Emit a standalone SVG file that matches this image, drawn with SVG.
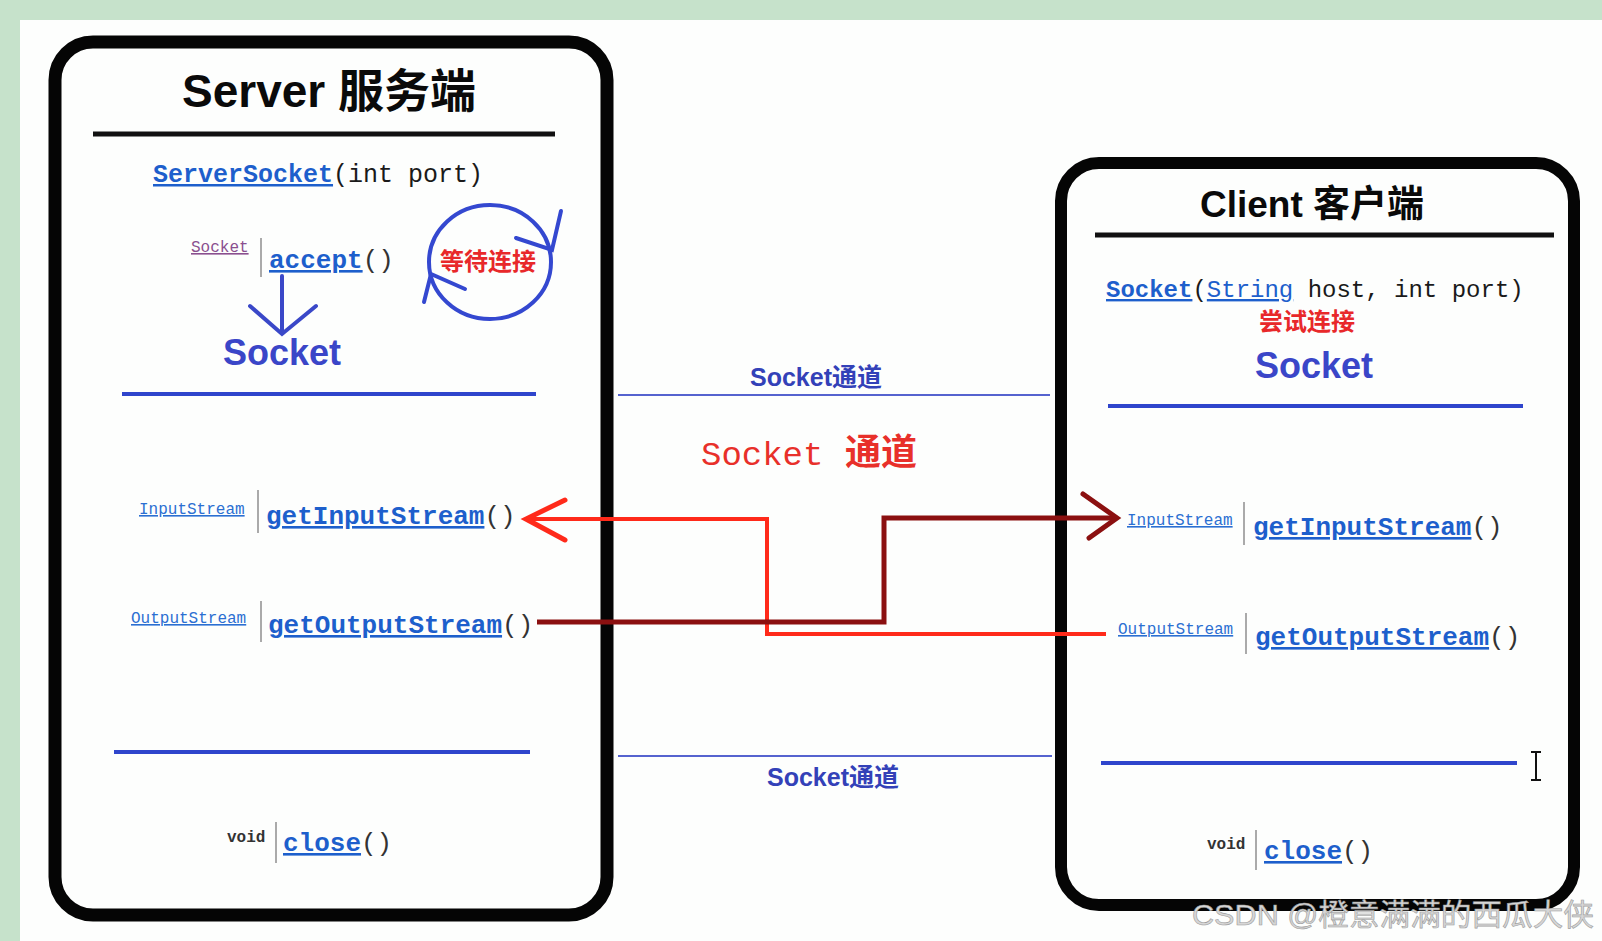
<svg xmlns="http://www.w3.org/2000/svg" width="1602" height="941" viewBox="0 0 1602 941">
<style>
.title{font-family:"Liberation Sans","Noto Sans CJK SC",sans-serif;font-weight:bold;fill:#0a0a0a}
.mono{font-family:"Liberation Mono",monospace;fill:#1a1a1a}
.link{font-family:"Liberation Mono",monospace;font-weight:bold;fill:#1d5fcc;text-decoration:underline}
.small{font-family:"Liberation Mono",monospace;font-size:16px;fill:#2b6fd2;text-decoration:underline}
.paren{font-family:"Liberation Mono",monospace;fill:#333}
.big{font-family:"Liberation Sans","Noto Sans CJK SC",sans-serif;font-weight:bold;font-size:36px;fill:#3a46c8}
.chan{font-family:"Liberation Sans","Noto Sans CJK SC",sans-serif;font-weight:bold;font-size:25px;fill:#3341b8}
.redcn{font-family:"Liberation Sans","Noto Sans CJK SC",sans-serif;font-weight:bold;fill:#e8282a}
.box{fill:#fdfefd;stroke:#050505}
.sep{stroke:#aaaaaa;stroke-width:2}
.hblue{stroke:#2f45cc;stroke-width:4}
.hblack{stroke:#111;stroke-width:5}
.chline{stroke:#5563cf;stroke-width:2}
</style>
<rect width="1602" height="941" fill="#fdfefd"/>
<rect x="0" y="0" width="1602" height="20" fill="#c6e2cb"/>
<rect x="0" y="0" width="20" height="941" fill="#c6e2cb"/>

<g id="server">
<rect class="box" x="55" y="42" width="552" height="873" rx="38" stroke-width="13"/>
<text class="title" x="329" y="107" font-size="46" text-anchor="middle">Server 服务端</text>
<line class="hblack" x1="93" y1="134" x2="555" y2="134"/>
<text x="153" y="182" font-size="25"><tspan class="link">ServerSocket</tspan><tspan class="mono">(int port)</tspan></text>
<text class="small" x="191" y="252" style="fill:#8a4f8f">Socket</text>
<line class="sep" x1="261" y1="238" x2="261" y2="277"/>
<text x="269" y="268" font-size="26"><tspan class="link">accept</tspan><tspan class="paren">()</tspan></text>
<g fill="none" stroke="#3a48c8" stroke-width="4" stroke-linecap="round">
<line x1="282" y1="276" x2="282" y2="333"/>
<polyline points="250,306 282,334 316,306"/>
</g>
<text class="big" x="282" y="365" text-anchor="middle">Socket</text>
<line class="hblue" x1="122" y1="394" x2="536" y2="394"/>
<text class="small" x="139" y="514">InputStream</text>
<line class="sep" x1="258" y1="490" x2="258" y2="533"/>
<text x="266" y="524" font-size="26"><tspan class="link">getInputStream</tspan><tspan class="paren">()</tspan></text>
<text class="small" x="131" y="623">OutputStream</text>
<line class="sep" x1="261" y1="601" x2="261" y2="642"/>
<text x="268" y="633" font-size="26"><tspan class="link">getOutputStream</tspan><tspan class="paren">()</tspan></text>
<line class="hblue" x1="114" y1="752" x2="530" y2="752"/>
<text class="small" x="227" y="842" style="fill:#333;text-decoration:none;font-weight:bold">void</text>
<line class="sep" x1="276" y1="822" x2="276" y2="863"/>
<text x="283" y="851" font-size="26"><tspan class="link">close</tspan><tspan class="paren">()</tspan></text>
</g>

<g id="wait-loop">
<ellipse cx="490" cy="262" rx="61" ry="57" fill="none" stroke="#3448d0" stroke-width="4"/>
<g fill="none" stroke="#3448d0" stroke-width="4" stroke-linecap="round">
<polyline points="561,211 552,250 516,238"/>
<polyline points="424,302 431,274 465,289"/>
</g>
<text class="redcn" x="488" y="270" font-size="24" text-anchor="middle">等待连接</text>
</g>

<g id="client">
<rect class="box" x="1061" y="163" width="513" height="742" rx="38" stroke-width="12"/>
<text class="title" x="1312" y="217" font-size="37" text-anchor="middle">Client 客户端</text>
<line class="hblack" x1="1095" y1="235" x2="1554" y2="235"/>
<text x="1106" y="297" font-size="24"><tspan class="link">Socket</tspan><tspan class="mono">(</tspan><tspan class="link" style="font-weight:normal">String</tspan><tspan class="mono"> host, int port)</tspan></text>
<text class="redcn" x="1307" y="330" font-size="24" text-anchor="middle">尝试连接</text>
<text class="big" x="1314" y="378" text-anchor="middle">Socket</text>
<line class="hblue" x1="1108" y1="406" x2="1523" y2="406"/>
<text class="small" x="1127" y="525">InputStream</text>
<line class="sep" x1="1244" y1="502" x2="1244" y2="545"/>
<text x="1253" y="535" font-size="26"><tspan class="link">getInputStream</tspan><tspan class="paren">()</tspan></text>
<text class="small" x="1118" y="634">OutputStream</text>
<line class="sep" x1="1246" y1="613" x2="1246" y2="654"/>
<text x="1255" y="645" font-size="26"><tspan class="link">getOutputStream</tspan><tspan class="paren">()</tspan></text>
<line class="hblue" x1="1101" y1="763" x2="1517" y2="763"/>
<text class="small" x="1207" y="849" style="fill:#333;text-decoration:none;font-weight:bold">void</text>
<line class="sep" x1="1256" y1="830" x2="1256" y2="870"/>
<text x="1264" y="859" font-size="26"><tspan class="link">close</tspan><tspan class="paren">()</tspan></text>
</g>

<g id="channel">
<line class="chline" x1="618" y1="395" x2="1050" y2="395"/>
<text class="chan" x="816" y="386" text-anchor="middle">Socket通道</text>
<text x="701" y="465"><tspan font-family="Liberation Mono, monospace" font-size="34" fill="#e8302a">Socket</tspan><tspan x="845" font-family="Liberation Sans, Noto Sans CJK SC, sans-serif" font-weight="bold" font-size="36" fill="#e8302a">通道</tspan></text>
<line class="chline" x1="618" y1="756" x2="1052" y2="756"/>
<text class="chan" x="833" y="786" text-anchor="middle">Socket通道</text>
</g>

<g id="connectors" fill="none" stroke-linejoin="miter">
<polyline points="1106,634 767,634 767,519 528,519" stroke="#ff2a1a" stroke-width="4"/>
<polyline points="565,500 526,519 565,540" stroke="#ff2a1a" stroke-width="5" stroke-linecap="round"/>
<polyline points="537,622 884,622 884,518 1114,518" stroke="#8b1010" stroke-width="5"/>
<polyline points="1083,494 1117,518 1089,538" stroke="#8b1010" stroke-width="5" stroke-linecap="round"/>
</g>

<g id="cursor" fill="none" stroke="#111" stroke-width="2">
<path d="M1531 752 h10 M1536 752 v28 M1531 780 h10"/>
</g>

<text x="1192" y="925" font-family="Liberation Sans, Noto Sans CJK SC, sans-serif" font-size="30" textLength="402" lengthAdjust="spacingAndGlyphs" fill="#d6d6d6" stroke="#9c9c9c" stroke-width="0.6">CSDN @橙意满满的西瓜大侠</text>
</svg>
